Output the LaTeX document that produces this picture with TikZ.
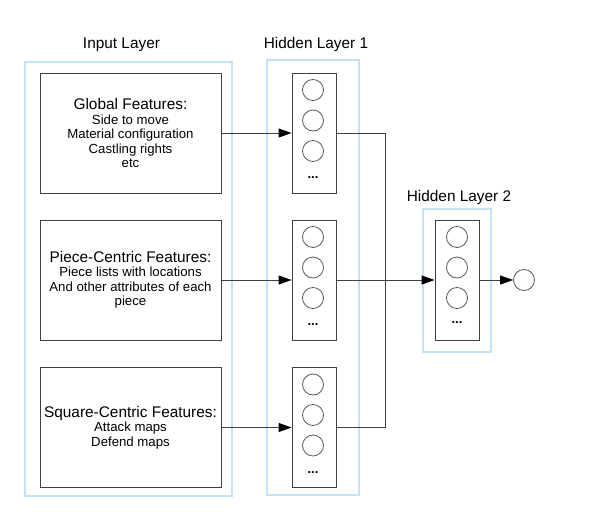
\documentclass[tikz,border=0pt]{standalone}
\usepackage{fontspec}
\setmainfont{Liberation Sans}
\usetikzlibrary{arrows.meta,positioning}
\definecolor{layerblue}{RGB}{196,226,244}
\tikzset{
  layerbox/.style = {draw=layerblue, line width=1.5pt},
  layertitle/.style = {font=\fontsize{15.4}{17}\selectfont, anchor=base, inner sep=0pt},
  featbox/.style = {draw=black!75, line width=0.9pt, minimum width=181pt, minimum height=120pt,
    align=center, inner sep=0pt, font=\fontsize{13.2}{14.5}\selectfont},
  unitbox/.style = {draw=black!75, line width=0.9pt, minimum width=44pt, minimum height=120pt, inner sep=0pt},
  neuron/.style = {circle, draw=black!65, line width=0.8pt, minimum size=21pt, inner sep=0pt},
  dots/.style = {font=\bfseries\fontsize{13}{13}\selectfont, inner sep=0pt},
  wire/.style = {draw=black!75, line width=0.9pt},
  feed/.style = {wire, -{Triangle[length=13pt,width=9pt,color=black]}},
}
\newcommand{\feattitle}[1]{{\fontsize{15.4}{15.5}\selectfont #1}}

\begin{document}
\begin{tikzpicture}[x=1pt, y=-1pt]
\useasboundingbox (0,0) rectangle (598,520);

% layer frames
\draw[layerbox] (25,62) rectangle (232,496);
\draw[layerbox] (267,60) rectangle (359,495);
\draw[layerbox] (423,209) rectangle (491,352);

\node[layertitle] (tin) at (121.5,48) {Input Layer};
\node[layertitle] (thida) at (316,48) {Hidden Layer 1};
\node[layertitle] (thidb) at (459,201) {Hidden Layer 2};

% input features
\node[featbox] (glob) at (130.5,133) {\feattitle{Global Features:}\\Side to move\\Material configuration\\Castling rights\\etc};
\node[featbox] (piece) at (130.5,280) {\feattitle{Piece-Centric Features:}\\Piece lists with locations\\And other attributes of each\\piece};
\node[featbox] (square) at (130.5,427.5) {\feattitle{Square-Centric Features:}\\Attack maps\\Defend maps};

% hidden layer 1
\foreach \name/\yc in {hida/133, hidb/280, hidc/427.5} {
  \node[unitbox] (\name) at (314,\yc) {};
  \foreach \dy [count=\i] in {-43,-12.5,18}
    \node[neuron] (\name-\i) at (313,\yc+\dy) {};
  \node[dots] (\name-dots) at (313,\yc+45) {...};
}

% hidden layer 2
\node[unitbox] (hid2) at (457,280) {};
\foreach \dy [count=\i] in {-43,-12.5,18}
  \node[neuron] (hid2-\i) at (457,280+\dy) {};
\node[dots] (hid2-dots) at (457,323) {...};

\node[neuron] (out) at (524,280) {};
\coordinate (join) at (385,280);

% connections
\draw[feed] (glob) -- (hida);
\draw[feed] (piece) -- (hidb);
\draw[feed] (square) -- (hidc);
\draw[wire] (hida.east) -| (hidc.east -| join) -- (hidc.east);
\draw[feed] (hidb) -- (hid2);
\draw[feed] (hid2) -- (out);

\end{tikzpicture}
\end{document}
